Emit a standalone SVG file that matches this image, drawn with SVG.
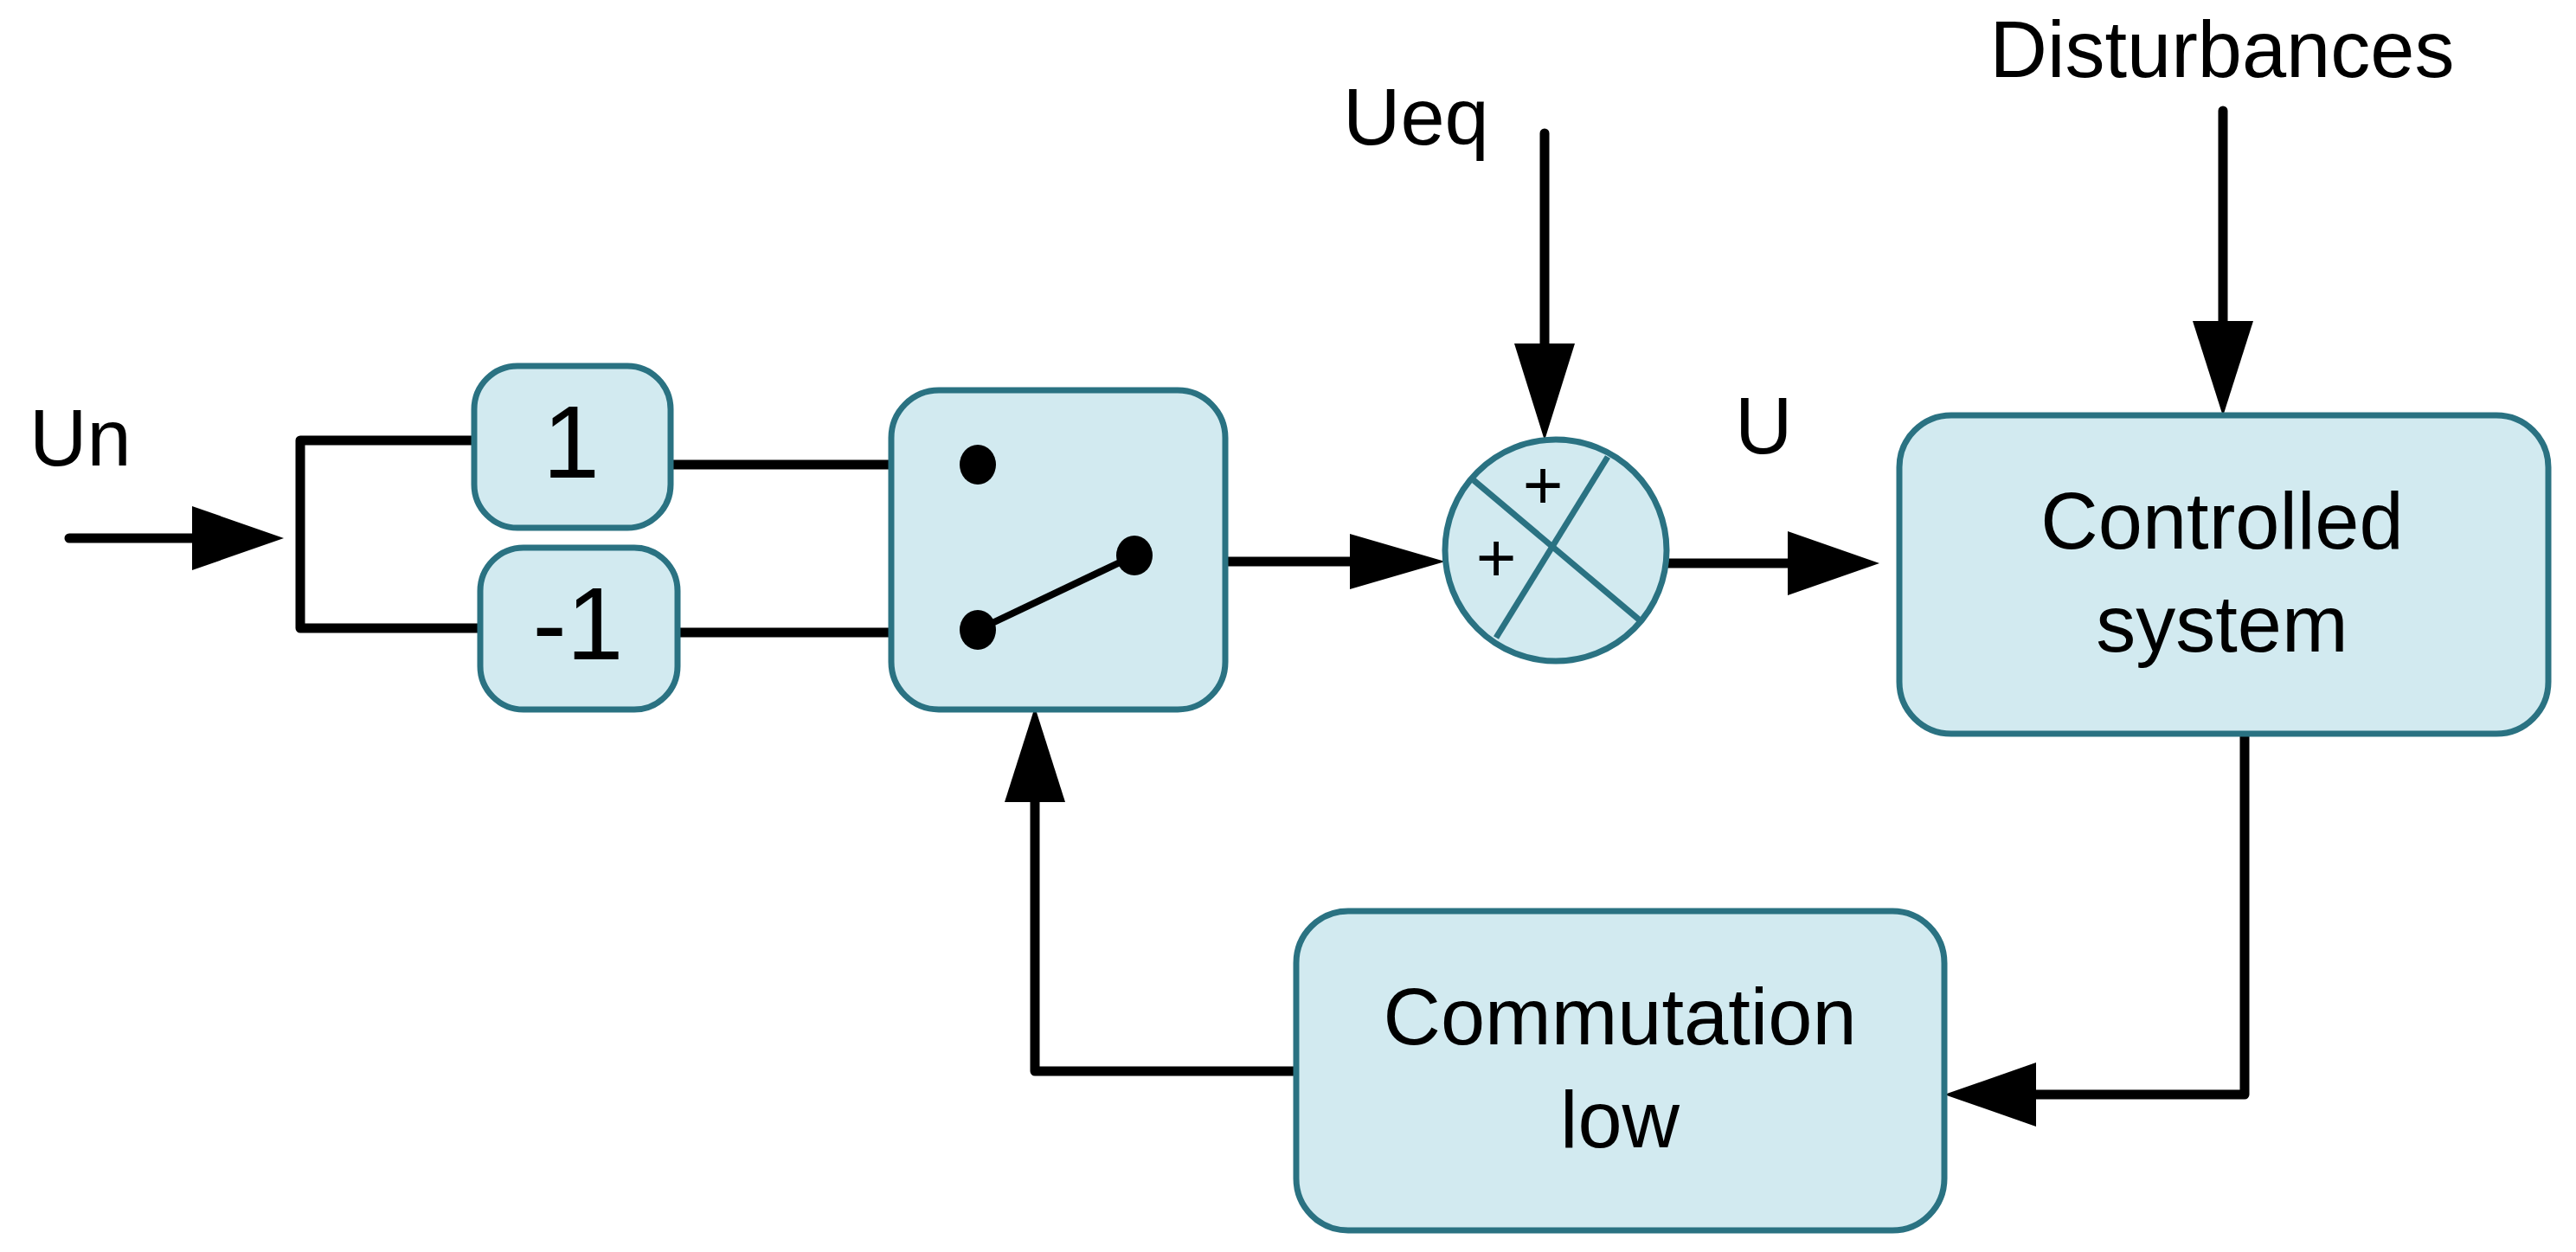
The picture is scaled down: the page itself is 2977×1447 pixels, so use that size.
<svg xmlns="http://www.w3.org/2000/svg" width="2977" height="1447" viewBox="0 0 2977 1447">
<style>
.box{fill:#d2eaf0;stroke:#2a7282;stroke-width:7}
.w{fill:none;stroke:#000;stroke-width:11;stroke-linecap:round;stroke-linejoin:round}
.t{font-family:"Liberation Sans",Arial,sans-serif;font-size:92px;fill:#000;text-anchor:middle}
.ah{fill:#000}
</style>
<rect width="2977" height="1447" fill="#fff"/>
<g id="connectors">
<path class="w" d="M80 622H240"/><polygon class="ah" points="222,585 328,622 222,659"/>
<path class="w" d="M548 509H347V726H555"/>
<path class="w" d="M775 537H1130"/>
<path class="w" d="M783 731H1130"/>
<path class="w" d="M1416 649H1580"/><polygon class="ah" points="1560,617 1670,649 1560,681"/>
<path class="w" d="M1785 154V410"/><polygon class="ah" points="1750,397 1785,509 1820,397"/>
<path class="w" d="M2569 128V380"/><polygon class="ah" points="2534,371 2569,481 2604,371"/>
<path class="w" d="M1926 651H2080"/><polygon class="ah" points="2066,614 2172,651 2066,688"/>
<path class="w" d="M2594 848V1265H2340"/><polygon class="ah" points="2353,1228 2247,1265 2353,1302"/>
<path class="w" d="M1498 1238H1196V915"/><polygon class="ah" points="1161,927 1196,817 1231,927"/>
</g>
<g id="gain1"><rect class="box" x="548" y="423" width="227" height="187" rx="50"/><text class="t" x="660" y="552" style="font-size:118px">1</text></g>
<g id="gainm1"><rect class="box" x="555" y="633" width="228" height="187" rx="50"/><text class="t" x="668" y="762" style="font-size:118px">-1</text></g>
<g id="switch"><rect class="box" x="1030" y="451" width="386" height="369" rx="55"/>
<ellipse cx="1130" cy="537" rx="21" ry="23"/><ellipse cx="1130" cy="728" rx="21" ry="23"/><ellipse cx="1311" cy="642" rx="21" ry="23"/>
<line x1="1130" y1="728" x2="1311" y2="642" stroke="#000" stroke-width="8"/></g>
<g id="sum"><circle class="box" cx="1798" cy="636" r="128"/>
<line x1="1703" y1="555" x2="1894" y2="716" stroke="#2a7282" stroke-width="7"/>
<line x1="1858" y1="528" x2="1729" y2="737" stroke="#2a7282" stroke-width="7"/>
<text class="t" x="1783" y="588" style="font-size:80px">+</text><text class="t" x="1729" y="672" style="font-size:80px">+</text></g>
<g id="plant"><rect class="box" x="2195" y="480" width="750" height="368" rx="60"/>
<text class="t" x="2568" y="634">Controlled</text><text class="t" x="2568" y="753">system</text></g>
<g id="commutation"><rect class="box" x="1498" y="1053" width="749" height="369" rx="60"/>
<text class="t" x="1872" y="1207">Commutation</text><text class="t" x="1872" y="1326">low</text></g>
<g id="labels">
<text class="t" x="34" y="538" style="text-anchor:start">Un</text>
<text class="t" x="1552" y="167" style="text-anchor:start">Ueq</text>
<text class="t" x="2005" y="524" style="text-anchor:start">U</text>
<text class="t" x="2568" y="89">Disturbances</text>
</g>
</svg>
